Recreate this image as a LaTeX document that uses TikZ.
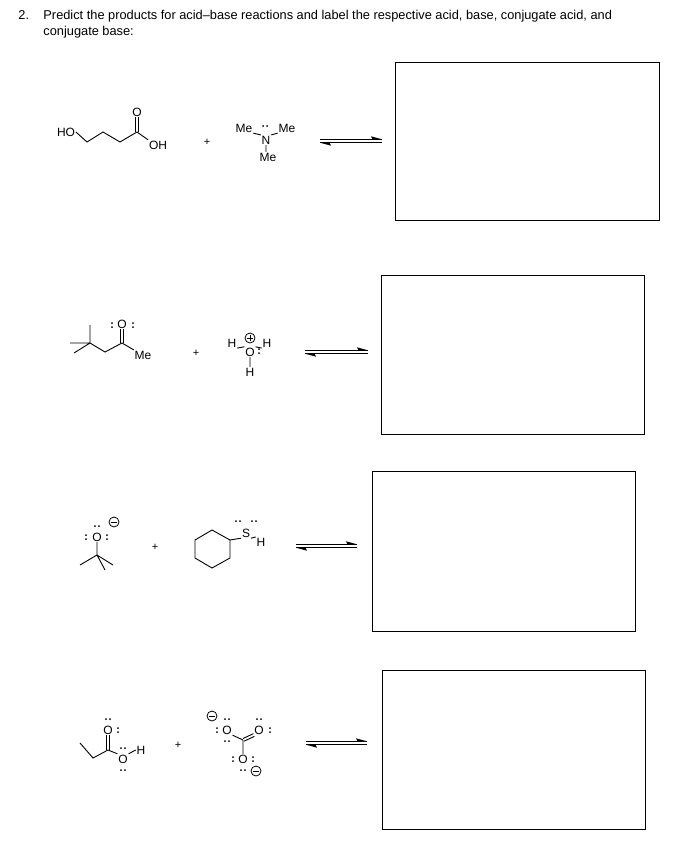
\documentclass[tikz,border=0pt]{standalone}
\usepackage{fontspec}
\setmainfont{Liberation Sans}
\usetikzlibrary{calc}
\begin{document}
\begin{tikzpicture}[x=1pt,y=-1pt,line width=0.9pt,
  atom/.style={inner sep=0.5pt,font=\fontsize{12}{13}\selectfont},
  box/.style={draw,line width=1pt},
  plus/.style={font=\fontsize{11}{12}\selectfont},
  dot/.style={fill,circle,inner sep=0pt,minimum size=2pt}]
\useasboundingbox (0,0) rectangle (684,854);
\newcommand{\hp}[2]{\node[dot] at (#1-2,#2) {};\node[dot] at (#1+2,#2) {};}
\newcommand{\vp}[2]{\node[dot] at (#1,#2-2) {};\node[dot] at (#1,#2+2) {};}
\newcommand{\chg}[3]{\draw[line width=0.8pt] (#1,#2) circle (5); \draw[line width=0.8pt] (#1-2.8,#2)--(#1+2.8,#2); \ifx#3p\draw[line width=0.8pt] (#1,#2-2.8)--(#1,#2+2.8);\fi}
\newcommand{\eqarrow}[3]{%
 \coordinate (a1) at (#1,#3-1.7); \coordinate (b1) at (#2,#3-1.7);
 \coordinate (a2) at (#1,#3+1.7); \coordinate (b2) at (#2,#3+1.7);
 \draw[line width=0.8pt] (a1)--(b1); \fill (b1)--++(-11,-3)--++(1.5,3)--cycle;
 \draw[line width=0.8pt] (a2)--(b2); \fill (a2)--++(11,3)--++(-1.5,-3)--cycle;}
% title
\node[anchor=north west,inner sep=0,font=\fontsize{12.8}{16}\selectfont] (num) at (18,10) {2.};
\node[anchor=north west,inner sep=0,align=left,font=\fontsize{12.8}{16}\selectfont] (q) at (43,10) {Predict the products for acid--base reactions and label the respective acid, base, conjugate acid, and\\conjugate base:};
% boxes
\draw[box] (395,62) rectangle (659,220);
\draw[box] (381,275) rectangle (644,434);
\draw[box] (372,471) rectangle (635,631);
\draw[box] (382,670) rectangle (645,829);
% arrows
\eqarrow{320}{382}{141}
\eqarrow{305}{368}{352}
\eqarrow{296}{357}{546}
\eqarrow{306}{367}{743}
% ---- row 1
\node[atom] (ho) at (66,132) {HO};
\coordinate (c1) at (87,142); \coordinate (c2) at (103,132); \coordinate (c3) at (120,142); \coordinate (c4) at (137,132);
\node[atom] (o1) at (137,112) {O};
\node[atom] (oh1) at (158,145) {OH};
\draw (ho.east)--(c1)--(c2)--(c3)--(c4)--(oh1.north west);
\draw ([xshift=-1.5]o1.south)--([xshift=-1.5]c4) ([xshift=1.5]o1.south)--([xshift=1.5]c4) ;
\node[plus] (p1) at (207,142) {+};
\node[atom] (n1) at (266,140) {N};
\node[atom] (me1) at (244,128) {Me};
\node[atom] (me2) at (287,128) {Me};
\node[atom] (me3) at (268,157) {Me};
\draw (me1.south east)--(n1.north west) (me2.south west)--(n1.north east) (n1.south)--(me3.north-|n1.south);
\hp{265}{126}
% ---- row 2
\coordinate (q) at (90,343);
\draw (90,325)--(q) (70,343)--(q) (74,353)--(q);
\coordinate (ch2) at (105,352); \coordinate (co) at (122,343);
\node[atom] (o2) at (122,324) {O};
\node[atom] (me4) at (143,355) {Me};
\draw (q)--(ch2)--(co)--(me4.north west);
\draw ([xshift=-1.5]o2.south)--([xshift=-1.5]co) ([xshift=1.5]o2.south)--([xshift=1.5]co);
\vp{112}{325} \vp{133}{325}
\node[plus] (p2) at (196,353) {+};
\node[atom] (o3) at (250,352) {O};
\node[atom] (h1) at (232,343) {H};
\node[atom] (h2) at (267,343) {H};
\node[atom] (h3) at (250,372) {H};
\draw (h1.south east)--(o3.north west) (h2.south west)--(o3.north east) (o3.south)--(h3.north);
\chg{250}{338}{p}
\vp{259}{351}
% ---- row 3
\node[atom] (o4) at (97,537) {O};
\hp{97}{526} \vp{86}{537} \vp{107}{537}
\chg{114}{522}{m}
\coordinate (c5) at (97,555);
\draw (o4.south)--(c5) (c5)--(80,565) (c5)--(113,565) (c5)--(105,570);
\node[plus] (p3) at (155,547) {+};
\coordinate (r1) at (212,530); \coordinate (r2) at (230,540); \coordinate (r3) at (230,558);
\coordinate (r4) at (212,568); \coordinate (r5) at (195,558); \coordinate (r6) at (195,540);
\draw (r1)--(r2)--(r3)--(r4)--(r5)--(r6)--cycle;
\node[atom] (s1) at (246,533) {S};
\node[atom] (h4) at (261,542) {H};
\draw (r2)--(s1.south west) (s1.south east)--(h4.north west);
\hp{238}{521} \hp{254}{521}
% ---- row 4
\coordinate (d1) at (80,743); \coordinate (d2) at (93,758); \coordinate (d3) at (108,750);
\node[atom] (o5) at (108,730) {O};
\node[atom] (o6) at (123,759) {O};
\node[atom] (h5) at (141,750) {H};
\draw (d1)--(d2)--(d3)--(o6.north west) (o6.north east)--(h5.west);
\draw ([xshift=-1.5]o5.south)--([xshift=-1.5]d3) ([xshift=1.5]o5.south)--([xshift=1.5]d3);
\hp{108}{719} \vp{118}{730} \hp{123}{748} \hp{123}{770}
\node[plus] (p4) at (178,745) {+};
\coordinate (cc) at (243,740);
\node[atom] (o7) at (227,730) {O};
\node[atom] (o8) at (259,730) {O};
\node[atom] (o9) at (243,759) {O};
\draw (o7.south east)--(cc) (cc)--(o9.north);
\draw ($(cc)+(0,-1.5)$) -- ($(o8.south west)+(0,-1.5)$);
\draw ($(cc)+(1,1.2)$) -- ($(o8.south west)+(1,1.2)$);
\chg{212}{716}{m} \chg{256}{771}{m}
\hp{227}{719} \vp{217}{730} \hp{227}{741}
\hp{259}{719} \vp{270}{730}
\vp{233}{759} \vp{253}{759} \hp{243}{770}
\end{tikzpicture}
\end{document}
